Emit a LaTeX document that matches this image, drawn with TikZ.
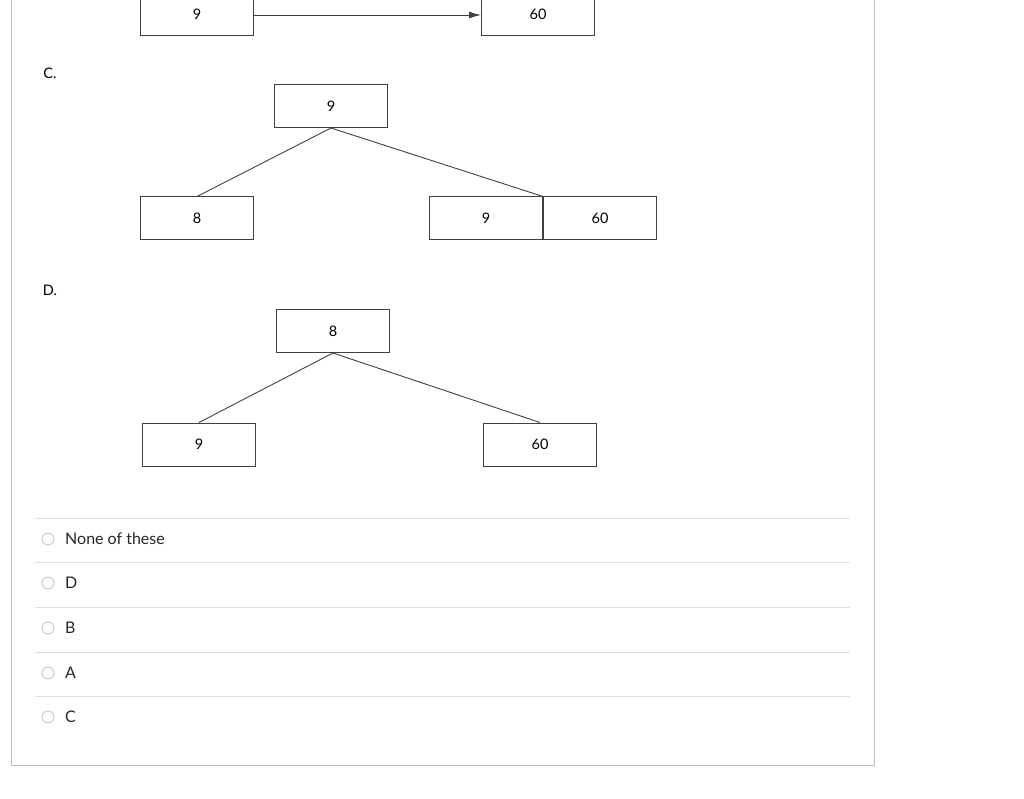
\documentclass[tikz,border=0pt]{standalone}
\usepackage{fontspec}
\setmainfont{Lato}
\usetikzlibrary{arrows.meta}
\definecolor{frame}{rgb}{0.75,0.75,0.75}
\definecolor{rule}{rgb}{0.88,0.88,0.88}
\definecolor{edge}{rgb}{0.25,0.25,0.25}
\begin{document}
\begin{tikzpicture}[x=1pt,y=-1pt,
		box/.style = {rectangle,draw=edge,line width=1pt,minimum width=113pt,minimum height=43pt,inner sep=0pt,font=\fontsize{14.5}{17}\selectfont},
		link/.style = {draw=edge,line width=0.9pt},
		radio/.style = {circle,draw=frame,line width=0.8pt,minimum size=12pt,inner sep=0pt},
		answer/.style = {anchor=west,inner sep=0pt,font=\fontsize{16}{19}\selectfont,text=black!85},
		letter/.style = {inner sep=0pt,font=\fontsize{14.5}{17}\selectfont}]
		\useasboundingbox (0,0) rectangle (1024,799);
		% frame
		\draw[frame,line width=1pt] (11,0) -- (11,765) -- (874,765) -- (874,0);
		% top row
		\node [box] (b9) at (197,14.5) {9};
		\node [box] (b60) at (538,14.5) {60};
		\draw [link,-{Latex[length=12pt,width=7pt]}] (b9.east |- 0,15) -- (b60.west |- 0,15);
		% C
		\node [letter] (lc) at (50,73) {C.};
		\node [box] (c9) at (331,106) {9};
		\node [box] (c8) at (197,218.5) {8};
		\node [box] (cl) at (486,218.5) {9};
		\node [box,anchor=west] (cr) at (cl.east) {60};
		\draw [link] (c9.south) -- (c8.north);
		\draw [link] (c9.south) -- (cl.north east);
		% D
		\node [letter] (ld) at (50,290) {D.};
		\node [box] (d8) at (333,331) {8};
		\node [box] (d9) at (199,444.5) {9};
		\node [box] (d60) at (540,444.5) {60};
		\draw [link] (d8.south) -- (d9.north);
		\draw [link] (d8.south) -- (d60.north);
		% answers
		\foreach \y in {518,562,607,652,696}
			\draw [rule,line width=0.8pt] (35,\y) -- (850,\y);
		\foreach \y/\t [count=\i] in {539/None of these,583/D,628/B,673/A,717/C} {
			\node [radio] (r\i) at (48,\y) {};
			\node [answer] (a\i) at (65,\y) {\t};
		}
\end{tikzpicture}
\end{document}
